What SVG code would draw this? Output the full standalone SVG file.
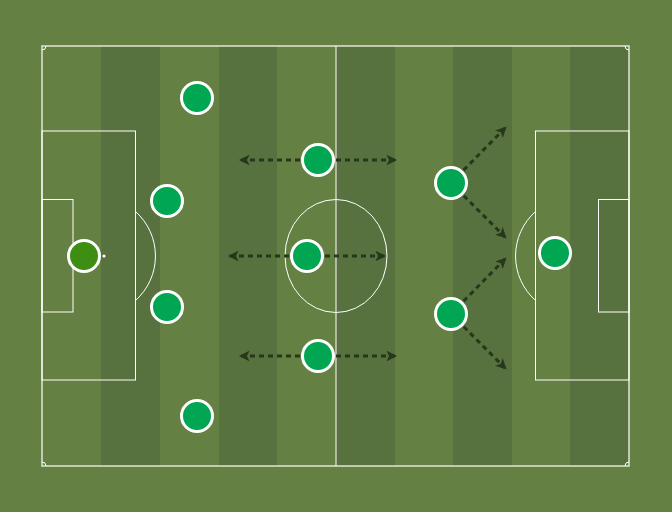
<svg xmlns="http://www.w3.org/2000/svg" width="672" height="512" viewBox="0 0 672 512">
<style>
.line{fill:none;stroke:#ffffff;stroke-width:1}
.outer{fill:none;stroke:#e0e6d4;stroke-width:1.5}
.stripe{fill:#58723f}
.player{fill:#00a651;stroke:#ffffff;stroke-width:3}
.gk{fill:#3e8e14;stroke:#ffffff;stroke-width:3}
.arrow{fill:none;stroke:#27371c;stroke-width:3;stroke-dasharray:5 4;marker-end:url(#ah)}
</style>
<defs>
<marker id="ah" viewBox="0 0 10 10" refX="8" refY="5" markerWidth="3.6" markerHeight="3.6" orient="auto" markerUnits="strokeWidth">
<path d="M0,0 L10,5 L0,10 L2.5,5 Z" fill="#27371c"/>
</marker>
</defs>
<rect width="672" height="512" fill="#648043"/>
<g id="pitch">
<rect class="stripe" x="101" y="46" width="59" height="420"/>
<rect class="stripe" x="219" y="46" width="58" height="420"/>
<rect class="stripe" x="336" y="46" width="59" height="420"/>
<rect class="stripe" x="453" y="46" width="59" height="420"/>
<rect class="stripe" x="570" y="46" width="59" height="420"/>
<rect class="outer" x="42" y="46" width="587" height="420"/>
<line class="line" x1="336" y1="46" x2="336" y2="466"/>
<ellipse class="line" cx="336" cy="256" rx="51" ry="56.5"/>
<circle cx="336" cy="256" r="1.5" fill="#ffffff"/>
<rect class="line" x="42" y="131" width="93.5" height="249"/>
<rect class="line" x="42" y="199.5" width="31" height="112.5"/>
<path class="line" d="M135.5,211.5 A59.6,59.6 0 0 1 135.5,300.5"/>
<circle cx="104" cy="256" r="1.6" fill="#ffffff"/>
<rect class="line" x="535.5" y="131" width="93.5" height="249"/>
<rect class="line" x="598.5" y="199.5" width="30.5" height="112.5"/>
<path class="line" d="M535.5,211.5 A59.6,59.6 0 0 0 535.5,300.5"/>
<circle cx="567" cy="256" r="1.6" fill="#ffffff"/>
<path class="line" d="M42,50 A4,4 0 0 0 46,46"/>
<path class="line" d="M625,46 A4,4 0 0 0 629,50"/>
<path class="line" d="M42,462 A4,4 0 0 1 46,466"/>
<path class="line" d="M625,466 A4,4 0 0 1 629,462"/>
</g>
<g id="connectors">
<line class="arrow" x1="318" y1="160" x2="241" y2="160"/>
<line class="arrow" x1="318" y1="160" x2="395" y2="160"/>
<line class="arrow" x1="307" y1="256" x2="230" y2="256"/>
<line class="arrow" x1="307" y1="256" x2="384" y2="256"/>
<line class="arrow" x1="318" y1="356" x2="241" y2="356"/>
<line class="arrow" x1="318" y1="356" x2="395" y2="356"/>
<line class="arrow" x1="451" y1="183" x2="505" y2="128"/>
<line class="arrow" x1="451" y1="183" x2="505" y2="237"/>
<line class="arrow" x1="451" y1="314" x2="505" y2="259"/>
<line class="arrow" x1="451" y1="314" x2="505" y2="368"/>
</g>
<g id="gk"><circle class="gk" cx="84" cy="256" r="15.5"/></g>
<g id="p1"><circle class="player" cx="197" cy="98" r="15.5"/></g>
<g id="p2"><circle class="player" cx="167" cy="201" r="15.5"/></g>
<g id="p3"><circle class="player" cx="167" cy="307" r="15.5"/></g>
<g id="p4"><circle class="player" cx="197" cy="416" r="15.5"/></g>
<g id="p5"><circle class="player" cx="318" cy="160" r="15.5"/></g>
<g id="p6"><circle class="player" cx="307" cy="256" r="15.5"/></g>
<g id="p7"><circle class="player" cx="318" cy="356" r="15.5"/></g>
<g id="p8"><circle class="player" cx="451" cy="183" r="15.5"/></g>
<g id="p9"><circle class="player" cx="451" cy="314" r="15.5"/></g>
<g id="p10"><circle class="player" cx="555" cy="253" r="15.5"/></g>
</svg>
